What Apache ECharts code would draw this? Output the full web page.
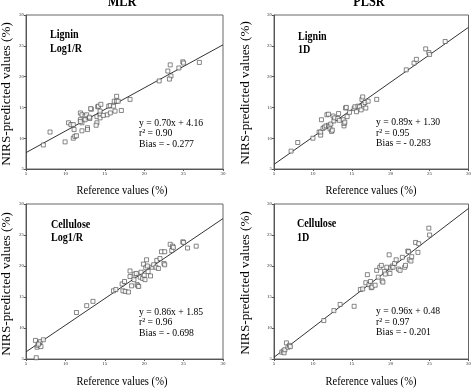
<!DOCTYPE html>
<html><head><meta charset="utf-8">
<script src="https://cdn.jsdelivr.net/npm/echarts@6/dist/echarts.min.js"></script>
<style>html,body{margin:0;padding:0;background:#fff}#c{width:474px;height:389px}</style>
</head><body><div id="c"></div>
<script>
const panelTitles = ['MLR', 'PLSR'];
const constituents = ['Lignin', 'Lignin', 'Cellulose', 'Cellulose'];
const pretreatments = ['Log1/R', '1D', 'Log1/R', '1D'];
const slopes = [0.70, 0.89, 0.86, 0.96];
const intercepts = [4.16, 1.30, 1.85, 0.48];
const r2Values = ['0.90', '0.95', '0.96', '0.97'];
const biasValues = ['- 0.277', '- 0.283', '- 0.698', '- 0.201'];
const axisTicks = [5, 10, 15, 20, 25, 30];
const xAxisTitle = 'Reference values (%)';
const yAxisTitle = 'NIRS-predicted values (%)';

const ligninMLR = [
  [7.2,8.9],[8.05,11.0],[9.96,9.4],[10.4,12.5],[10.7,12.2],[11.0,10.0],[11.2,10.3],[11.4,10.4],
  [11.1,11.4],[11.0,12.2],[11.9,14.1],[12.1,13.8],[11.9,13.0],[12.1,12.5],[12.1,11.2],[12.5,13.6],
  [12.7,13.8],[12.8,11.7],[12.8,11.4],[13.1,13.2],[13.3,14.7],[13.2,14.8],[14.0,12.5],[13.9,12.1],
  [14.0,13.5],[14.1,15.1],[14.2,15.2],[14.4,13.9],[14.4,13.3],[14.5,15.5],[14.4,14.4],[15.5,15.2],
  [15.7,15.3],[15.3,13.8],[15.7,14.1],[16.1,15.2],[16.2,16.0],[16.3,14.4],[16.5,16.8],[16.5,16.0],
  [16.7,16.0],[17.1,14.5],[18.2,16.3],[21.9,19.3],[23.0,20.9],[23.3,21.9],[23.4,20.1],[23.2,19.6],
  [24.4,21.4],[24.9,22.4],[25.0,22.2],[27.0,22.3],[12.5,13.0],[13.05,13.4],[11.9,12.7],[14.8,13.7]
];
const ligninPLSR = [
  [7.2,7.9],[8.05,9.3],[10.0,10.0],[10.8,11.0],[11.0,10.5],[11.0,11.0],[11.1,13.0],[11.3,11.6],
  [11.5,11.8],[11.7,12.0],[11.8,13.8],[12.0,13.9],[12.0,12.1],[12.1,11.9],[12.2,11.5],[12.3,12.3],
  [12.4,11.1],[12.5,11.3],[12.6,13.6],[12.7,12.8],[12.8,13.3],[13.2,13.2],[13.3,14.0],[13.4,12.9],
  [13.9,13.0],[14.0,12.0],[14.0,12.4],[14.1,12.6],[14.2,14.9],[14.3,15.0],[14.4,13.5],[14.7,14.2],
  [15.3,14.8],[15.4,15.1],[15.6,14.3],[15.8,15.2],[16.0,15.1],[16.2,14.6],[16.3,16.3],[16.4,16.7],
  [16.5,15.5],[16.7,15.8],[16.8,14.9],[17.1,16.0],[18.2,16.3],[22.0,21.1],[23.0,22.2],[23.3,22.8],
  [24.5,24.5],[24.9,23.9],[25.0,23.6],[27.0,25.7]
];
const celluloseMLR = [
  [6.2,8.0],[6.3,5.2],[6.4,6.9],[6.5,7.2],[6.7,7.6],[6.8,7.8],[6.9,7.0],[7.2,8.1],[6.6,7.4],
  [11.4,12.5],[12.7,13.6],[13.5,14.3],[16.1,16.0],[16.4,16.2],[17.2,17.1],[17.3,16.0],[17.5,17.5],
  [17.6,15.9],[18.0,15.8],[18.2,19.2],[18.2,18.3],[18.4,16.8],[18.7,17.8],[18.8,18.7],[19.0,18.8],
  [19.1,17.0],[19.2,16.8],[19.3,16.7],[19.5,18.2],[19.6,19.0],[19.8,18.0],[19.9,20.3],[20.0,18.5],
  [20.1,17.8],[20.2,19.7],[20.3,21.0],[20.4,20.0],[20.5,19.1],[20.8,18.4],[21.0,19.8],[21.2,20.2],
  [21.5,19.8],[21.6,20.9],[21.8,19.6],[22.0,21.2],[22.2,22.3],[22.5,20.4],[22.6,20.2],[22.6,22.3],
  [23.3,23.5],[23.5,22.5],[23.6,23.2],[23.7,23.0],[24.9,23.9],[25.0,23.8],[25.5,22.9],[26.6,23.2]
];
const cellulosePLSR = [
  [6.0,6.1],[6.2,6.3],[6.3,6.0],[6.4,6.5],[6.6,7.6],[6.8,6.9],[7.0,7.2],[7.1,7.0],
  [11.4,11.2],[12.7,12.8],[13.5,13.8],[15.3,13.5],[16.1,16.2],[16.4,16.3],[16.8,17.3],[17.0,18.6],
  [17.2,17.0],[17.4,17.5],[17.5,16.5],[17.6,16.6],[18.0,16.9],[18.2,19.3],[18.4,18.2],[18.6,19.8],
  [18.8,20.1],[18.9,17.6],[19.0,17.4],[19.2,19.1],[19.3,18.7],[19.5,19.8],[19.8,21.8],[19.9,18.8],
  [20.0,19.7],[20.2,20.0],[20.3,19.8],[20.5,20.4],[20.7,21.0],[21.0,19.5],[21.2,19.3],[21.5,21.4],
  [21.8,19.8],[21.9,20.1],[22.2,22.4],[22.3,22.3],[22.4,21.0],[22.6,20.8],[22.7,21.5],[23.2,23.8],
  [23.5,22.2],[23.6,23.6],[24.9,26.1],[25.0,25.0]
];
const panelData = [ligninMLR, ligninPLSR, celluloseMLR, cellulosePLSR];

const FONT = 'Liberation Serif';
const grids = [
  {left: 26, top: 15, width: 197, height: 154},
  {left: 274, top: 15, width: 196, height: 154},
  {left: 26, top: 204, width: 197, height: 155},
  {left: 274, top: 204, width: 196, height: 155}
];
const labelPos = [
  {cx: 50, cy1: 35, cy2: 49, ex: 139, ey: [123, 133.5, 144]},
  {cx: 298, cy1: 37, cy2: 50, ex: 376, ey: [122.3, 133.3, 143.5]},
  {cx: 51, cy1: 225, cy2: 238.5, ex: 139, ey: [311.7, 322.3, 332.7]},
  {cx: 297, cy1: 224.5, cy2: 238, ex: 376, ey: [310.7, 321.7, 331.7]}
];
const tMin = axisTicks[0], tMax = axisTicks[axisTicks.length - 1], tInt = axisTicks[1] - axisTicks[0];

function axisCfg(i) {
  return {
    type: 'value', gridIndex: i, min: tMin, max: tMax, interval: tInt,
    axisLine: {show: true, lineStyle: {color: '#555', width: 1}},
    axisTick: {show: true, length: 2, lineStyle: {color: '#555'}},
    axisLabel: {fontSize: 5, color: '#333', fontFamily: FONT, margin: 2},
    splitLine: {show: false}
  };
}

const series = [];
panelData.forEach((d, i) => {
  series.push({
    type: 'scatter', xAxisIndex: i, yAxisIndex: i, data: d,
    symbol: 'rect', symbolSize: 4,
    itemStyle: {color: '#fff', borderColor: '#444', borderWidth: 0.8}
  });
  series.push({
    type: 'line', xAxisIndex: i, yAxisIndex: i,
    data: [[tMin, slopes[i] * tMin + intercepts[i]], [tMax, slopes[i] * tMax + intercepts[i]]],
    symbol: 'none', lineStyle: {color: '#333', width: 1}, silent: true, z: 1
  });
});

const graphic = [];
function txt(x, y, text, font, extra) {
  graphic.push(Object.assign({type: 'text', x: x, y: y, scaleX: 0.88,
    style: {text: text, font: font, fill: '#000', align: 'left', verticalAlign: 'middle'}}, extra || {}));
}
[ [122, panelTitles[0]], [369, panelTitles[1]] ].forEach(([x, t]) => {
  txt(x, 2, t, 'bold 14px "' + FONT + '"', {});
  graphic[graphic.length - 1].style.align = 'center';
});
labelPos.forEach((p, i) => {
  txt(p.cx, p.cy1, constituents[i], 'bold 11.5px "' + FONT + '"');
  txt(p.cx, p.cy2, pretreatments[i], 'bold 11.5px "' + FONT + '"');
  txt(p.ex, p.ey[0], 'y = ' + slopes[i].toFixed(2) + 'x + ' + intercepts[i].toFixed(2), '11px "' + FONT + '"');
  txt(p.ex, p.ey[1], 'r\u00B2 = ' + r2Values[i], '11px "' + FONT + '"');
  txt(p.ex, p.ey[2], 'Bias = ' + biasValues[i], '11px "' + FONT + '"');
});
[[122, 190.5], [371, 190.5], [122, 382], [371, 382]].forEach(([x, y]) => {
  graphic.push({type: 'text', x: x, y: y, scaleX: 0.88,
    style: {text: xAxisTitle, font: '12px "' + FONT + '"', fill: '#000', align: 'center', verticalAlign: 'middle'}});
});
[[7, 94], [246, 93], [7, 284], [246, 283]].forEach(([x, y]) => {
  graphic.push({type: 'text', x: x, y: y, rotation: Math.PI / 2, scaleX: 1.1,
    style: {text: yAxisTitle, font: '12px "' + FONT + '"', fill: '#000', align: 'center', verticalAlign: 'middle'}});
});

const chart = echarts.init(document.getElementById('c'), null, {renderer: 'canvas'});
chart.setOption({
  animation: false,
  backgroundColor: '#fff',
  grid: grids.map(g => Object.assign({show: true, borderColor: '#666', borderWidth: 1, backgroundColor: 'transparent'}, g)),
  xAxis: grids.map((g, i) => axisCfg(i)),
  yAxis: grids.map((g, i) => axisCfg(i)),
  series: series,
  graphic: graphic
});
</script></body></html>
